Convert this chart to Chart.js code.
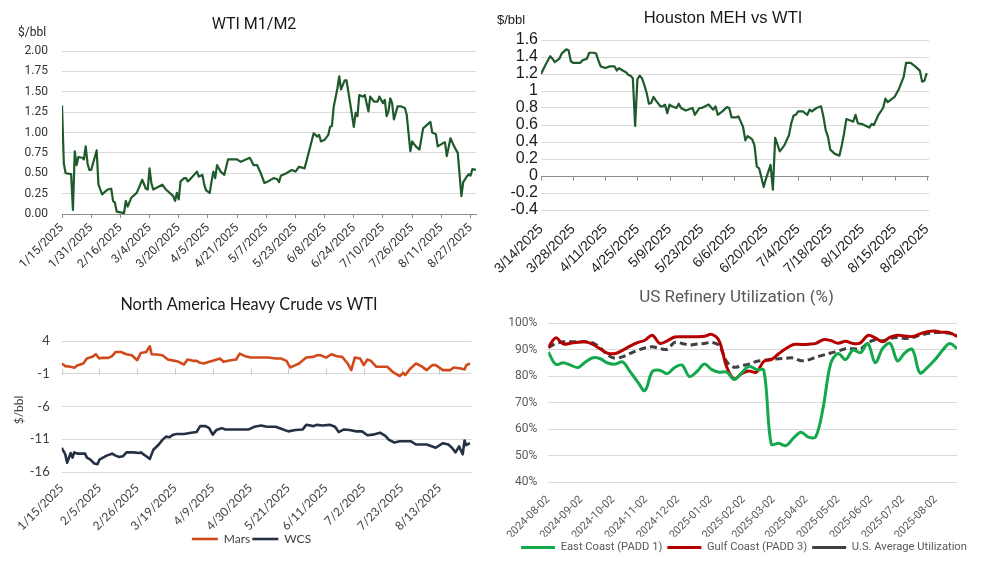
<!DOCTYPE html>
<html>
<head>
<meta charset="utf-8">
<script src="https://cdn.jsdelivr.net/npm/chart.js@4.4.1/dist/chart.umd.min.js"></script>
<style>
  body { margin: 0; background: #fff; width: 998px; height: 575px; position: relative; overflow: hidden; }
  canvas { position: absolute; }
</style>
</head>
<body>
<canvas id="wti" width="490" height="290" style="left:0;top:0"></canvas>
<canvas id="meh" width="508" height="290" style="left:490px;top:0"></canvas>
<canvas id="heavy" width="490" height="285" style="left:0;top:290px"></canvas>
<canvas id="refinery" width="508" height="285" style="left:490px;top:290px"></canvas>
<script>
// ---- WTI M1/M2 spread ($/bbl), 2025
const wtiDates = ['1/15','1/16','1/17','1/20','1/21','1/22','1/23','1/24','1/26','1/27','1/28','1/29','1/30','1/31',
  '2/3','2/4','2/6','2/9','2/11','2/12','2/13','2/14','2/16','2/18','2/19','2/20','2/22','2/24','2/25','2/28',
  '3/2','3/3','3/4','3/5','3/6','3/11','3/13','3/17','3/18','3/19','3/20','3/21','3/23','3/24','3/25','3/26','3/30','3/31',
  '4/2','4/3','4/4','4/6','4/7','4/8','4/9','4/10','4/12','4/14','4/16','4/21','4/23','4/28','4/30',
  '5/2','5/4','5/6','5/8','5/11','5/13','5/14','5/15','5/18','5/21','5/23','5/25','5/28','5/30',
  '6/2','6/4','6/5','6/6','6/8','6/10','6/11','6/12','6/13','6/15','6/16','6/17','6/19','6/20','6/22','6/24','6/25','6/26','6/27','6/29','6/30',
  '7/2','7/3','7/5','7/7','7/8','7/10','7/11','7/12','7/13','7/14','7/15','7/16','7/18','7/20','7/22','7/23','7/25','7/26','7/28','7/30',
  '8/1','8/3','8/5','8/6','8/8','8/9','8/12','8/13','8/14','8/16','8/18','8/20','8/22','8/23','8/25','8/26','8/27','8/28','8/30'];
const wtiSpread = [1.33,0.62,0.50,0.49,0.05,0.77,0.60,0.70,0.69,0.67,0.83,0.62,0.54,0.54,
  0.78,0.36,0.24,0.30,0.31,0.16,0.14,0.03,0.02,0.01,0.16,0.09,0.20,0.24,0.26,0.42,
  0.31,0.30,0.56,0.38,0.30,0.36,0.30,0.22,0.16,0.26,0.18,0.40,0.44,0.44,0.40,0.42,0.52,0.46,
  0.48,0.36,0.29,0.26,0.40,0.52,0.44,0.60,0.52,0.48,0.67,0.67,0.64,0.69,0.60,
  0.60,0.50,0.38,0.40,0.44,0.43,0.39,0.47,0.50,0.54,0.52,0.58,0.56,0.73,
  0.99,0.95,0.97,0.89,0.91,0.97,1.07,1.08,1.32,1.54,1.69,1.53,1.64,1.64,1.36,1.07,1.24,1.20,1.46,1.44,1.46,
  1.26,1.44,1.38,1.38,1.44,1.36,1.40,1.20,1.26,1.42,1.36,1.16,1.32,1.32,1.30,1.22,0.77,0.89,0.83,0.79,
  1.05,1.09,1.13,1.00,0.98,0.83,0.87,0.88,0.71,0.93,0.83,0.75,0.22,0.39,0.46,0.49,0.47,0.55,0.54];
const wtiTicks = ['1/15/2025','1/31/2025','2/16/2025','3/4/2025','3/20/2025','4/5/2025','4/21/2025','5/7/2025',
  '5/23/2025','6/8/2025','6/24/2025','7/10/2025','7/26/2025','8/11/2025','8/27/2025'];

// ---- Houston MEH vs WTI ($/bbl), 2025
const mehDates = ['3/14','3/16','3/18','3/19','3/20','3/22','3/23','3/25','3/26','3/27','3/28','3/31',
  '4/1','4/3','4/4','4/6','4/7','4/8','4/9','4/11','4/13','4/15','4/16','4/17','4/18','4/20','4/21','4/22','4/23','4/24','4/25','4/26','4/27','4/28','4/29','4/30',
  '5/1','5/2','5/3','5/5','5/6','5/7','5/8','5/9','5/10','5/12','5/13','5/14','5/16','5/19','5/20','5/22','5/23','5/26','5/28','5/29','5/30',
  '6/1','6/3','6/4','6/5','6/7','6/8','6/9','6/10','6/11','6/12','6/14','6/15','6/16','6/17','6/19','6/20','6/22','6/23','6/24','6/26','6/28','6/30',
  '7/1','7/2','7/3','7/4','7/6','7/8','7/9','7/10','7/12','7/14','7/15','7/16','7/17','7/18','7/20','7/22','7/23','7/24','7/25','7/27','7/28','7/29','7/30',
  '8/1','8/4','8/5','8/6','8/8','8/10','8/11','8/12','8/14','8/15','8/17','8/19','8/20','8/22','8/24','8/26','8/27','8/28','8/29'];
const mehSpread = [1.20,1.31,1.41,1.38,1.34,1.38,1.44,1.49,1.48,1.35,1.33,1.33,
  1.36,1.38,1.45,1.45,1.44,1.36,1.29,1.27,1.29,1.29,1.24,1.27,1.25,1.22,1.19,1.18,1.15,0.59,1.14,1.18,1.15,1.07,0.98,0.85,
  0.86,0.93,0.89,0.82,0.82,0.84,0.74,0.84,0.82,0.80,0.85,0.80,0.77,0.80,0.72,0.80,0.80,0.84,0.78,0.82,0.72,
  0.76,0.81,0.80,0.69,0.69,0.70,0.64,0.58,0.42,0.47,0.43,0.36,0.11,0.09,-0.13,-0.03,0.13,-0.16,0.45,0.29,0.36,0.48,
  0.62,0.71,0.72,0.76,0.76,0.72,0.78,0.76,0.80,0.82,0.70,0.54,0.46,0.31,0.26,0.24,0.36,0.50,0.67,0.65,0.64,0.72,0.62,
  0.61,0.57,0.61,0.60,0.72,0.80,0.91,0.87,0.91,0.93,1.03,1.17,1.33,1.33,1.29,1.24,1.11,1.12,1.21];
const mehTicks = ['3/14/2025','3/28/2025','4/11/2025','4/25/2025','5/9/2025','5/23/2025','6/6/2025',
  '6/20/2025','7/4/2025','7/18/2025','8/1/2025','8/15/2025','8/29/2025'];

// ---- North America heavy crude vs WTI ($/bbl), 2025
const marsDates = ['1/15','1/17','1/20','1/22','1/24','1/27','1/29','2/1','2/3','2/5','2/6','2/10','2/12','2/14','2/17','2/20','2/23','2/26','2/28',
  '3/3','3/5','3/6','3/9','3/12','3/15','3/19','3/21','3/24','3/26','3/29','3/31','4/2','4/4','4/7','4/10','4/13','4/15','4/19','4/22','4/24','4/27','4/30',
  '5/4','5/10','5/14','5/17','5/20','5/22','5/25','5/27','5/31','6/4','6/6','6/8','6/11','6/14','6/17','6/20','6/23','6/25','6/27','6/30',
  '7/2','7/4','7/6','7/9','7/13','7/15','7/18','7/22','7/24','7/25','7/28','7/31','8/3','8/6','8/9','8/11','8/15','8/19','8/21','8/25','8/27','8/28','8/30'];
const marsSpread = [0.57,0.16,0.06,-0.09,0.31,0.57,1.32,1.58,1.98,1.32,1.42,1.42,1.68,2.33,2.33,1.98,1.83,1.07,2.18,
  2.33,3.19,1.98,1.93,1.83,1.17,0.97,0.82,0.41,1.17,0.97,0.97,0.67,0.57,0.82,1.07,1.32,0.82,1.07,1.17,2.08,1.68,1.47,
  1.47,1.47,1.32,1.32,0.97,-0.04,0.31,0.57,1.47,1.58,1.83,1.83,1.47,1.98,1.68,1.58,0.57,-0.44,1.47,1.32,
  0.31,1.17,0.97,0.06,0.06,0.06,-0.70,-1.35,-0.85,-1.20,-0.19,0.57,0.16,-0.44,0.31,0.31,-0.44,-0.44,-0.04,-0.19,-0.34,0.31,0.57];
const wcsDates = ['1/15','1/17','1/18','1/20','1/21','1/22','1/24','1/28','1/29','1/31','2/2','2/4','2/5','2/7','2/9','2/12','2/14','2/16','2/18','2/20','2/24','2/27','2/28',
  '3/3','3/5','3/7','3/10','3/12','3/14','3/16','3/18','3/20','3/24','3/28','3/31','4/2','4/5','4/7','4/9','4/11','4/14','4/16','4/22','4/29',
  '5/2','5/6','5/9','5/14','5/17','5/21','5/25','5/29','5/31','6/4','6/6','6/9','6/13','6/16','6/18','6/21','6/24','6/28',
  '7/1','7/4','7/7','7/11','7/14','7/16','7/19','7/22','7/28','7/31','8/6','8/11','8/15','8/18','8/20','8/22','8/24','8/26','8/27','8/28','8/30'];
const wcsSpread = [-12.3,-13.3,-14.6,-13.1,-13.8,-13.0,-13.2,-13.2,-13.8,-14.1,-14.7,-14.8,-14.1,-13.8,-13.5,-13.2,-13.5,-13.7,-13.6,-13.0,-13.0,-13.1,-13.0,
  -13.6,-14.0,-12.6,-11.8,-11.1,-10.6,-10.7,-10.3,-10.2,-10.2,-10.0,-9.9,-9.0,-9.0,-9.3,-10.3,-9.6,-9.3,-9.5,-9.5,-9.5,
  -9.1,-8.9,-9.1,-9.1,-9.4,-9.8,-9.6,-9.5,-8.8,-9.0,-8.8,-8.9,-8.8,-9.1,-9.9,-9.5,-9.6,-9.8,
  -9.8,-10.4,-10.3,-10.0,-10.5,-11.1,-11.5,-11.3,-11.3,-11.8,-11.8,-12.3,-11.6,-11.8,-12.3,-13.0,-12.1,-13.3,-11.2,-11.9,-11.6];
const heavyTicks = ['1/15/2025','2/5/2025','2/26/2025','3/19/2025','4/9/2025','4/30/2025','5/21/2025',
  '6/11/2025','7/2/2025','7/23/2025','8/13/2025'];

// ---- US refinery utilization (%), weekly from 2024-08-02
const refineryStart = '2024-08-02';
const eastCoast = [89.2,84.5,85.1,84.2,83.3,85.4,87.0,86.6,85.0,84.6,85.4,81.8,78.0,74.6,81.8,82.3,81.0,83.3,84.2,79.9,
  81.8,84.6,82.5,81.5,81.6,78.8,81.2,83.8,82.5,82.3,54.4,54.7,53.8,56.7,58.9,57.0,57.2,68.4,84.8,88.6,
  86.3,89.9,88.9,92.4,85.1,90.5,92.4,85.8,88.9,90.1,81.3,83.3,86.1,89.6,92.4,90.5];
const gulfCoast = [90.9,94.5,92.2,92.5,92.8,93.0,92.0,90.3,88.7,88.6,89.8,91.4,92.7,93.6,95.5,92.4,93.4,94.8,94.9,94.9,
  94.9,95.1,95.8,93.3,83.6,79.0,81.0,82.0,81.5,85.6,86.3,88.5,90.5,92.0,92.0,92.1,92.4,93.8,93.5,92.5,
  93.2,92.4,92.6,95.4,94.5,93.0,94.8,95.5,95.2,95.0,96.0,96.8,97.1,96.6,96.5,95.0];
const usAverage = [90.9,92.3,93.0,93.0,93.0,93.0,92.6,90.7,88.0,86.8,87.4,88.6,89.8,90.7,91.1,90.5,90.2,92.8,92.4,91.8,
  92.2,92.4,92.8,91.6,85.5,83.4,84.0,84.6,85.6,86.0,86.4,86.6,86.8,86.9,85.9,86.2,87.2,88.0,88.8,89.5,
  90.4,90.4,90.3,92.6,93.8,93.4,94.3,94.6,94.3,94.6,95.5,96.1,96.5,96.5,96.2,95.2];
const refineryTicks = ['2024-08-02','2024-09-02','2024-10-02','2024-11-02','2024-12-02','2025-01-02','2025-02-02',
  '2025-03-02','2025-04-02','2025-05-02','2025-06-02','2025-07-02','2025-08-02'];

const DAY = 86400000;
function mdy(s) {
  const [m, d, y] = s.split('/').map(Number);
  return Date.UTC(y, m - 1, d) / DAY;
}
function iso(s) {
  const [y, m, d] = s.split('-').map(Number);
  return Date.UTC(y, m - 1, d) / DAY;
}
const points = (dates, vals) => dates.map((d, i) => ({ x: mdy(d + '/2025'), y: vals[i] }));

// text drawn on top of the chart (titles, unit labels)
const textPlugin = {
  id: 'texts',
  afterDraw(chart, args, opts) {
    const ctx = chart.ctx;
    (opts.items || []).forEach(t => {
      ctx.save();
      ctx.font = t.font;
      ctx.fillStyle = t.color;
      ctx.textAlign = t.align || 'center';
      ctx.textBaseline = 'alphabetic';
      ctx.translate(t.x, t.y);
      if (t.rotate) ctx.rotate(t.rotate);
      ctx.fillText(t.text, 0, 0);
      ctx.restore();
    });
  }
};

// small tick marks where the category axis crosses the value axis
const crossTicks = {
  id: 'crossTicks',
  beforeDatasetsDraw(chart, args, opts) {
    if (opts.value === undefined) return;
    const { ctx, scales: { x, y } } = chart;
    const py = Math.round(y.getPixelForValue(opts.value)) + 0.5;
    ctx.save();
    ctx.strokeStyle = opts.color;
    ctx.lineWidth = 1;
    ctx.beginPath();
    x.ticks.forEach(t => {
      const px = Math.round(x.getPixelForValue(t.value)) + 0.5;
      ctx.moveTo(px, py);
      ctx.lineTo(px, py + opts.length);
    });
    ctx.stroke();
    ctx.restore();
  }
};

function dateAxis(ticks, parse, min, max, font, color, height, extra) {
  const names = new Map(ticks.map(s => [parse(s), s]));
  const axis = Object.assign({
    type: 'linear',
    min: min,
    max: max,
    afterBuildTicks: ax => { ax.ticks = ticks.map(s => ({ value: parse(s) })); },
    afterFit: ax => { ax.height = height; },
    grid: { display: false },
    border: { display: false }
  }, extra || {});
  axis.ticks = Object.assign({
    autoSkip: false, minRotation: 45, maxRotation: 45,
    font: font, color: color,
    callback: v => names.get(v) || ''
  }, (extra && extra.ticks) || {});
  return axis;
}

function draw() {
  const GREEN = '#1e5a2b';

  // ---------- WTI M1/M2
  new Chart(document.getElementById('wti'), {
    type: 'line',
    data: { datasets: [{ data: points(wtiDates, wtiSpread), borderColor: GREEN, borderWidth: 2.2, pointRadius: 0, tension: 0, borderJoinStyle: 'round' }] },
    plugins: [textPlugin],
    options: {
      responsive: false, animation: false,
      layout: { padding: { top: 51, right: 14, left: 0, bottom: 0 } },
      plugins: {
        legend: { display: false }, tooltip: { enabled: false },
        texts: { items: [
          { text: 'WTI M1/M2', x: 254, y: 29, font: '16px Roboto', color: '#1a1a1a' },
          { text: '$/bbl', x: 18, y: 36, align: 'left', font: '12px Roboto', color: '#262626' }
        ] }
      },
      scales: {
        x: dateAxis(wtiTicks, mdy, mdy('1/15/2025'), mdy('8/30/2025'), { family: 'Roboto', size: 12 }, '#333', 76, {
          grid: { display: true, drawOnChartArea: false, drawTicks: true, tickLength: 4, color: '#8c8c8c' },
          border: { display: true, color: '#8c8c8c' }
        }),
        y: {
          min: 0, max: 2,
          afterFit: ax => { ax.width = 62; },
          ticks: { stepSize: 0.25, autoSkip: false, padding: 14, font: { family: 'Roboto', size: 12 }, color: '#333', callback: v => v.toFixed(2) },
          grid: { color: '#d9d9d9', drawTicks: false },
          border: { display: false }
        }
      }
    }
  });

  // ---------- Houston MEH vs WTI
  new Chart(document.getElementById('meh'), {
    type: 'line',
    data: { datasets: [{ data: points(mehDates, mehSpread), borderColor: GREEN, borderWidth: 2.2, pointRadius: 0, tension: 0, borderJoinStyle: 'round' }] },
    plugins: [textPlugin, crossTicks],
    options: {
      responsive: false, animation: false,
      layout: { padding: { top: 40, right: 69, left: 0, bottom: 0 } },
      plugins: {
        legend: { display: false }, tooltip: { enabled: false },
        crossTicks: { value: 0, length: 4, color: '#8c8c8c' },
        texts: { items: [
          { text: 'Houston MEH vs WTI', x: 233, y: 23, font: '16.5px "Liberation Sans"', color: '#1a1a1a' },
          { text: '$/bbl', x: 7, y: 24, align: 'left', font: '13px "Liberation Sans"', color: '#1a1a1a' }
        ] }
      },
      scales: {
        x: dateAxis(mehTicks, mdy, mdy('3/14/2025'), mdy('8/30/2025'), { family: 'Liberation Sans', size: 14 }, '#1a1a1a', 80, {}),
        y: {
          min: -0.4, max: 1.6,
          afterFit: ax => { ax.width = 51; },
          ticks: { stepSize: 0.2, autoSkip: false, padding: 3, font: { family: 'Liberation Sans', size: 16 }, color: '#1a1a1a',
                   callback: v => String(Math.round(v * 10) / 10) },
          grid: { drawTicks: false, color: c => Math.abs(c.tick.value) < 1e-9 ? '#8c8c8c' : '#d9d9d9' },
          border: { display: false }
        }
      }
    }
  });

  // ---------- North America Heavy Crude vs WTI
  new Chart(document.getElementById('heavy'), {
    type: 'line',
    data: { datasets: [
      { label: 'Mars', data: points(marsDates, marsSpread), borderColor: '#d04a1c', backgroundColor: '#d04a1c', borderWidth: 2.6, pointRadius: 0, tension: 0, borderJoinStyle: 'round' },
      { label: 'WCS', data: points(wcsDates, wcsSpread), borderColor: '#243142', backgroundColor: '#243142', borderWidth: 2.6, pointRadius: 0, tension: 0, borderJoinStyle: 'round' }
    ] },
    plugins: [textPlugin, crossTicks],
    options: {
      responsive: false, animation: false,
      layout: { padding: { top: 51, right: 0, left: 13, bottom: 20 } },
      plugins: {
        tooltip: { enabled: false },
        legend: { position: 'bottom', labels: { usePointStyle: true, pointStyle: 'line', pointStyleWidth: 26, padding: 2,
                  font: { family: 'Lato', size: 12 }, color: '#404040' } },
        crossTicks: { value: -1, length: -6, color: '#c8c8c8' },
        texts: { items: [
          { text: 'North America Heavy Crude vs WTI', x: 249, y: 20, font: '16.3px Lato', color: '#1a1a1a' },
          { text: '$/bbl', x: 23, y: 120, rotate: -Math.PI / 2, font: '12px Lato', color: '#404040' }
        ] }
      },
      scales: {
        x: dateAxis(heavyTicks, mdy, mdy('1/15/2025'), mdy('8/31/2025'), { family: 'Lato', size: 12 }, '#404040', 59, {
          ticks: { padding: 1 }
        }),
        y: {
          min: -16, max: 4,
          afterFit: ax => { ax.width = 48.7; },
          ticks: { stepSize: 5, autoSkip: false, padding: 12, font: { family: 'Lato', size: 13 }, color: '#404040' },
          grid: { color: '#d9d9d9', drawTicks: false },
          border: { display: false }
        },
        yR: { type: 'linear', position: 'right', afterFit: ax => { ax.width = 18.3; },
              ticks: { display: false }, grid: { display: false }, border: { display: false } }
      }
    }
  });

  // ---------- US Refinery Utilization
  const week0 = iso(refineryStart);
  const weekly = vals => vals.map((v, i) => ({ x: week0 + 7 * i, y: v }));
  new Chart(document.getElementById('refinery'), {
    type: 'line',
    data: { datasets: [
      { label: 'East Coast (PADD 1)', data: weekly(eastCoast), borderColor: '#13a84b', backgroundColor: '#13a84b', borderWidth: 3, pointRadius: 0, tension: 0.35 },
      { label: 'Gulf Coast (PADD 3)', data: weekly(gulfCoast), borderColor: '#b50000', backgroundColor: '#b50000', borderWidth: 3, pointRadius: 0, tension: 0.35 },
      { label: 'U.S. Average Utilization', data: weekly(usAverage), borderColor: '#404040', backgroundColor: '#404040', borderWidth: 3, borderDash: [7, 4], pointRadius: 0, tension: 0.35 }
    ] },
    plugins: [textPlugin],
    options: {
      responsive: false, animation: false,
      layout: { padding: { top: 33.3, right: 0, left: 0, bottom: 12 } },
      plugins: {
        tooltip: { enabled: false },
        legend: { position: 'bottom', labels: { usePointStyle: true, pointStyle: 'line', pointStyleWidth: 34, padding: 5,
                  font: { family: 'Roboto', size: 11.2 }, color: '#595959' } },
        texts: { items: [
          { text: 'US Refinery Utilization (%)', x: 246.5, y: 12, font: '17px Roboto', color: '#595959' }
        ] }
      },
      scales: {
        x: dateAxis(refineryTicks, iso, iso(refineryStart), week0 + 7 * (eastCoast.length - 1), { family: 'Roboto', size: 11 }, '#595959', 54.6, {}),
        y: {
          min: 40, max: 100,
          afterFit: ax => { ax.width = 58.3; },
          ticks: { stepSize: 10, autoSkip: false, padding: 11, font: { family: 'Roboto', size: 12 }, color: '#595959', callback: v => v + '%' },
          grid: { color: '#d9d9d9', drawTicks: false },
          border: { display: false }
        },
        yR: { type: 'linear', position: 'right', afterFit: ax => { ax.width = 41; },
              ticks: { display: false }, grid: { display: false }, border: { display: false } }
      }
    }
  });
}

Promise.all(['12px Roboto', '12px Lato', '12px "Liberation Sans"'].map(f => document.fonts.load(f)))
  .then(draw, draw);
</script>
</body>
</html>
